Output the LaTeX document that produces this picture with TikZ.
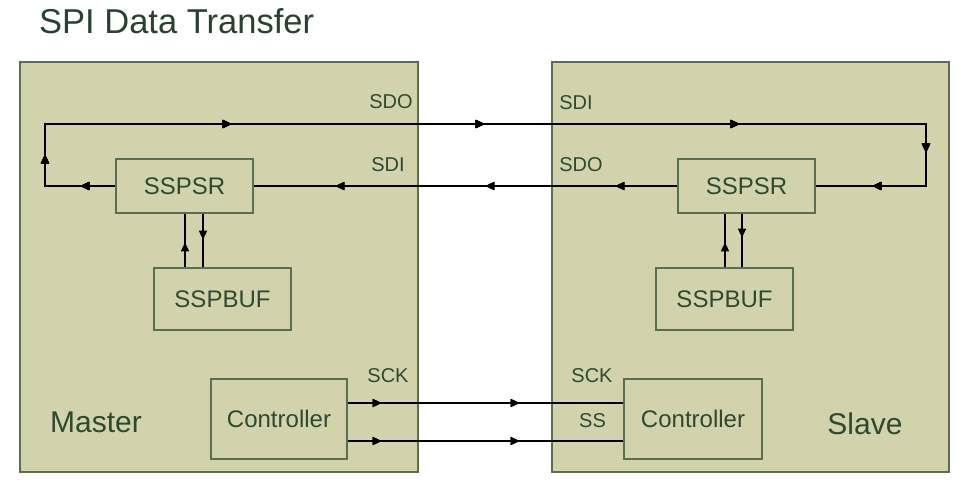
\documentclass[tikz,border=0pt]{standalone}
\usepackage{fontspec}
\setmainfont{Liberation Sans}
\usetikzlibrary{arrows.meta,decorations.markings}
\definecolor{boxfill}{RGB}{210,211,172}
\definecolor{boxedge}{RGB}{88,112,80}
\definecolor{txt}{RGB}{45,74,48}
\definecolor{titletxt}{RGB}{42,64,50}
\tikzset{
  x=1pt,y=-1pt,
  panel/.style={draw=boxedge,line width=1.6pt,fill=boxfill},
  unit/.style={draw=boxedge,line width=1.4pt,fill=boxfill,inner sep=0pt,text=txt,font=\fontsize{24}{24}\selectfont},
  lbl/.style={text=txt,inner sep=0pt,font=\fontsize{20}{20}\selectfont},
  big/.style={text=txt,inner sep=0pt,font=\fontsize{30}{30}\selectfont},
  wire/.style={line width=1.4pt,black},
  tip/.style={decoration={markings,mark=at position #1 with {\arrow{Triangle[length=9pt,width=8pt]}}},postaction={decorate}},
}
\begin{document}
\begin{tikzpicture}
\useasboundingbox (0,0) rectangle (961,483);
% panels
\draw[panel] (20,62) rectangle (418,472);
\draw[panel] (552,62) rectangle (949,472);
% title
\node[anchor=base west,inner sep=0pt,text=titletxt,font=\fontsize{34.5}{34.5}\selectfont] (title) at (39,33) {SPI Data Transfer};
% units
\node[unit,minimum width=137pt,minimum height=54pt] (sspM) at (184.5,186) {SSPSR};
\node[unit,minimum width=137pt,minimum height=62pt] (bufM) at (222.5,299) {SSPBUF};
\node[unit,minimum width=137pt,minimum height=54pt] (sspS) at (746.5,186) {SSPSR};
\node[unit,minimum width=137pt,minimum height=62pt] (bufS) at (724.5,299) {SSPBUF};
\node[unit,minimum width=136pt,minimum height=80pt] (ctrlM) at (279,419) {Controller};
\node[unit,minimum width=138pt,minimum height=80pt] (ctrlS) at (693,419) {Controller};
% labels
\node[lbl] (l1) at (391,102) {SDO};
\node[lbl] (l2) at (388,165) {SDI};
\node[lbl] (l3) at (576,103) {SDI};
\node[lbl] (l4) at (581,165) {SDO};
\node[lbl] (l5) at (388,376) {SCK};
\node[lbl] (l6) at (592,376) {SCK};
\node[lbl] (l7) at (592.5,421) {SS};
\node[big] (master) at (96,422) {Master};
\node[big] (slave) at (865,424) {Slave};
% data loop: master SSPSR -> top -> slave SSPSR
\coordinate (c1) at (45,186);
\coordinate (c2) at (45,124);
\coordinate (c3) at (926,124);
\coordinate (c4) at (926,186);
\draw[wire,tip=35pt,tip=102pt,tip=319pt,tip=572pt,tip=827pt,tip=1042pt,tip=1129pt]
  (sspM.west) -- (c1) -- (c2) -- (c3) -- (c4) -- (sspS.east);
% slave SDO -> master SDI
\draw[wire,tip=62pt,tip=192pt,tip=342pt] (sspS.west) -- (sspM.east);
% SSPSR <-> SSPBUF
\draw[wire,tip=25pt] (bufM.north -| 185,0) -- (sspM.south -| 185,0);
\draw[wire,tip=26pt] (sspM.south -| 203,0) -- (bufM.north -| 203,0);
\draw[wire,tip=25pt] (bufS.north -| 725,0) -- (sspS.south -| 725,0);
\draw[wire,tip=24pt] (sspS.south -| 742,0) -- (bufS.north -| 742,0);
% SCK and SS
\draw[wire,tip=34pt,tip=172pt] ([yshift=16pt]ctrlM.east) -- ([yshift=16pt]ctrlS.west);
\draw[wire,tip=34pt,tip=172pt] ([yshift=-22pt]ctrlM.east) -- ([yshift=-22pt]ctrlS.west);
\end{tikzpicture}
\end{document}
